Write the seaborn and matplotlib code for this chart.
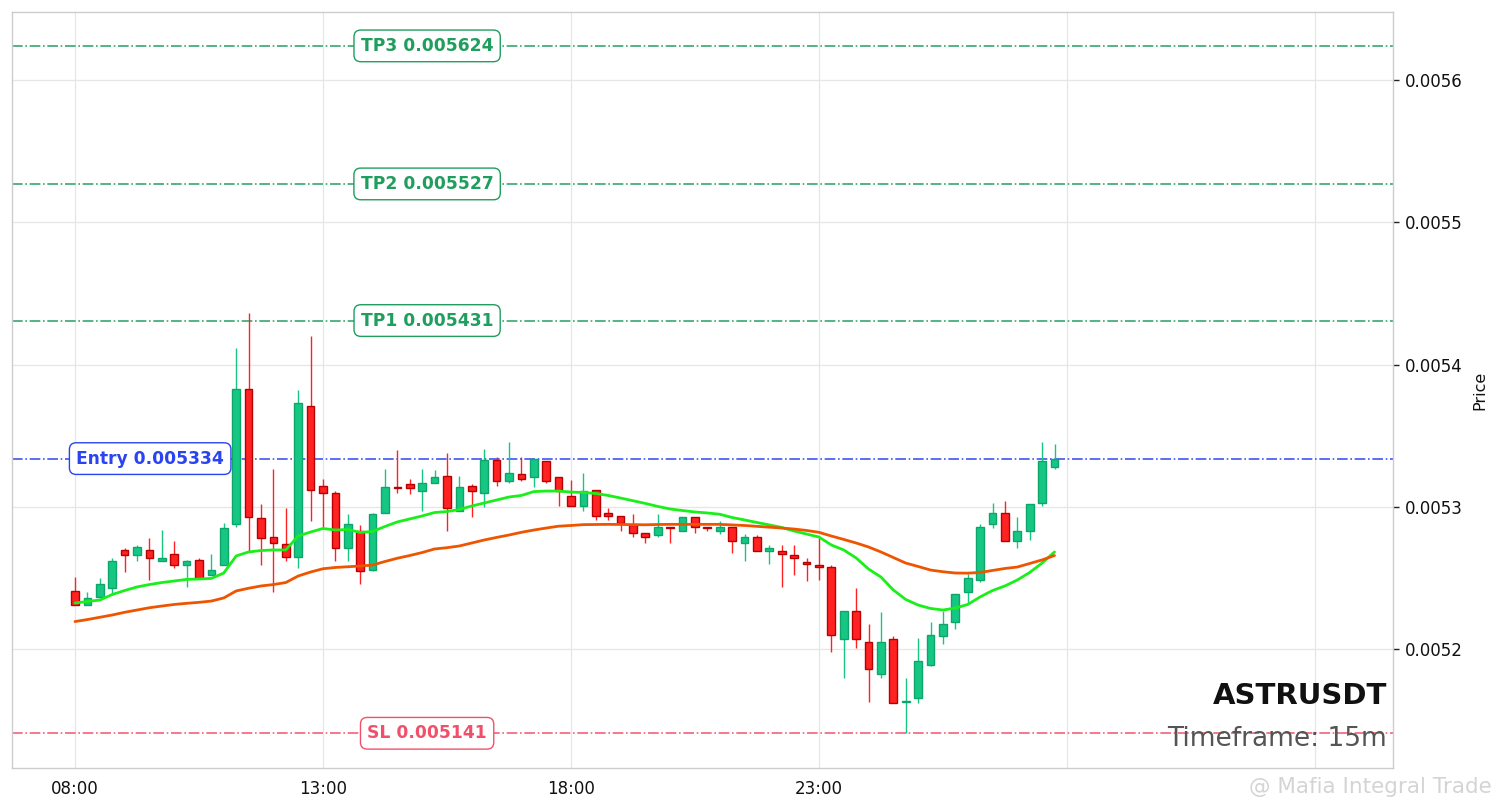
import matplotlib
matplotlib.use("Agg")
import matplotlib.pyplot as plt
import seaborn as sns
import numpy as np

# candle data, prices in 1e-6 units
opens = [5241, 5231, 5237, 5243, 5270, 5266, 5270, 5262, 5267, 5259,
         5263, 5252, 5259, 5288, 5383, 5292, 5279, 5274, 5265, 5371,
         5315, 5310, 5271, 5283, 5256, 5296, 5314, 5316, 5311, 5317,
         5322, 5297, 5315, 5310, 5333, 5318, 5323, 5321, 5332, 5321,
         5308, 5301, 5312, 5296, 5294, 5287, 5282, 5280, 5286, 5283,
         5293, 5286, 5283, 5286, 5275, 5279, 5269, 5269, 5266, 5261,
         5259, 5258, 5207, 5227, 5205, 5183, 5207, 5163, 5166, 5189,
         5209, 5219, 5240, 5249, 5288, 5296, 5276, 5283, 5303, 5328]
highs = [5251, 5240, 5250, 5264, 5271, 5273, 5278, 5284, 5276, 5263,
         5264, 5267, 5289, 5412, 5436, 5302, 5327, 5299, 5382, 5420,
         5320, 5311, 5295, 5287, 5296, 5327, 5340, 5320, 5327, 5326,
         5338, 5322, 5316, 5341, 5335, 5346, 5335, 5334, 5332, 5321,
         5319, 5324, 5312, 5299, 5294, 5295, 5282, 5295, 5286, 5293,
         5293, 5286, 5290, 5286, 5281, 5280, 5273, 5273, 5273, 5264,
         5278, 5259, 5227, 5243, 5218, 5226, 5209, 5180, 5208, 5219,
         5227, 5239, 5253, 5288, 5303, 5304, 5293, 5302, 5346, 5344]
lows = [5231, 5231, 5236, 5238, 5254, 5262, 5249, 5262, 5257, 5244,
        5250, 5252, 5259, 5286, 5269, 5259, 5240, 5262, 5257, 5290,
        5286, 5262, 5262, 5246, 5255, 5296, 5310, 5309, 5297, 5317,
        5283, 5297, 5293, 5300, 5315, 5317, 5318, 5314, 5317, 5301,
        5301, 5297, 5291, 5291, 5283, 5279, 5275, 5279, 5275, 5283,
        5282, 5283, 5281, 5268, 5262, 5269, 5260, 5244, 5252, 5248,
        5249, 5198, 5180, 5201, 5163, 5180, 5162, 5141, 5162, 5188,
        5204, 5214, 5232, 5247, 5285, 5276, 5271, 5277, 5301, 5327]
closes = [5231, 5236, 5246, 5262, 5266, 5272, 5264, 5264, 5259, 5262,
          5250, 5256, 5285, 5383, 5293, 5278, 5275, 5265, 5373, 5312,
          5310, 5271, 5288, 5255, 5295, 5314, 5313, 5313, 5317, 5321,
          5299, 5314, 5311, 5333, 5318, 5324, 5320, 5334, 5318, 5311,
          5301, 5311, 5294, 5294, 5289, 5282, 5279, 5286, 5285, 5293,
          5286, 5285, 5286, 5276, 5279, 5269, 5271, 5267, 5264, 5260,
          5258, 5210, 5227, 5207, 5186, 5205, 5162, 5164, 5192, 5210,
          5218, 5239, 5250, 5286, 5296, 5276, 5283, 5302, 5332, 5334]

ema_fast = [5232.5, 5233.6, 5234.6, 5238.5, 5241.3, 5243.8, 5245.5, 5246.9, 5248.0, 5249.1,
            5249.4, 5249.8, 5253.6, 5265.6, 5268.4, 5269.4, 5269.8, 5269.8, 5279.6, 5282.4,
            5284.9, 5283.8, 5284.2, 5282.1, 5282.8, 5286.3, 5289.5, 5291.6, 5293.7, 5296.1,
            5296.8, 5298.2, 5300.7, 5302.8, 5304.9, 5307.0, 5308.1, 5310.8, 5311.2, 5311.2,
            5310.5, 5310.2, 5309.5, 5308.1, 5306.3, 5304.4, 5302.5, 5300.4, 5298.6, 5297.5,
            5296.5, 5295.8, 5294.9, 5292.6, 5290.9, 5289.1, 5287.4, 5285.6, 5283.1, 5281.0,
            5278.9, 5273.3, 5269.8, 5264.2, 5256.4, 5250.8, 5241.7, 5235.0, 5231.1, 5228.7,
            5227.6, 5229.0, 5231.5, 5236.8, 5241.3, 5244.5, 5248.7, 5254.0, 5260.6, 5268.4]
ema_slow = [5219.5, 5220.9, 5222.5, 5224.1, 5226.0, 5227.6, 5229.2, 5230.4, 5231.5, 5232.3,
            5233.0, 5233.9, 5236.1, 5241.0, 5242.9, 5244.5, 5245.5, 5246.9, 5251.5, 5254.3,
            5256.6, 5257.5, 5258.0, 5258.5, 5259.2, 5261.7, 5264.0, 5265.9, 5268.0, 5270.5,
            5271.4, 5272.6, 5274.7, 5276.8, 5278.6, 5280.3, 5282.2, 5283.8, 5285.2, 5286.5,
            5287.0, 5287.6, 5287.7, 5287.8, 5287.7, 5287.6, 5287.5, 5287.7, 5287.8, 5287.8,
            5287.8, 5287.8, 5287.8, 5287.4, 5287.0, 5286.4, 5285.8, 5285.2, 5284.5, 5283.5,
            5282.2, 5279.6, 5277.2, 5274.7, 5271.9, 5268.4, 5264.5, 5260.6, 5258.2, 5255.7,
            5254.5, 5253.6, 5253.5, 5254.0, 5255.4, 5256.8, 5257.8, 5260.3, 5262.8, 5265.9]

level_names = ["TP3", "TP2", "TP1", "Entry", "SL"]
level_values = [0.005624, 0.005527, 0.005431, 0.005334, 0.005141]
level_colors = ["#1f9e5e", "#1f9e5e", "#1f9e5e", "#2a44f2", "#f2506a"]

tick_idx = [0, 20, 40, 60, 80, 100]
tick_labels = ["08:00", "13:00", "18:00", "23:00", "", ""]

symbol = "ASTRUSDT"
timeframe = "15m"

o = np.array(opens) * 1e-6
h = np.array(highs) * 1e-6
l = np.array(lows) * 1e-6
c = np.array(closes) * 1e-6
idx = np.arange(len(o))

sns.set_theme(style="whitegrid")
plt.rcParams['font.family'] = ['DejaVu Sans']

fig, ax = plt.subplots(figsize=(15.01, 8.08), dpi=100)
fig.subplots_adjust(left=12/1501, right=1393/1501, top=1-12/808, bottom=1-768/808)

up = c >= o
body_col = np.where(up, "#16c784", "#ff2222")
edge_col = np.where(up, "#0ea56b", "#b80000")

ax.vlines(idx, l, h, colors=body_col, lw=1, zorder=3)
ax.bar(idx, np.maximum(np.abs(c - o), 0.7e-6), bottom=np.minimum(o, c), width=0.62,
       color=body_col, edgecolor=edge_col, linewidth=1, zorder=4)

sns.lineplot(x=idx, y=np.array(ema_fast) * 1e-6, color="#1aef1a", lw=2, ax=ax, zorder=5)
sns.lineplot(x=idx, y=np.array(ema_slow) * 1e-6, color="#ee5500", lw=2, ax=ax, zorder=5)

for name, val, col in zip(level_names, level_values, level_colors):
    ax.axhline(val, color=col, ls="-.", lw=1.2, alpha=0.9, zorder=2)
    if name == "Entry":
        x, ha = 0.1, "left"
    else:
        x, ha = 28.4, "center"
    ax.text(x, val, f"{name} {val:.6f}", ha=ha, va="center", fontsize=12.3,
            fontweight="bold", color=col, zorder=6,
            bbox=dict(boxstyle="round,pad=0.4", fc="white", ec=col, lw=1))

ax.set_xlim(-5.08, 106.3)
ax.set_ylim(0.0051166, 0.0056478)
ax.set_xticks(tick_idx)
ax.set_xticklabels(tick_labels)
ax.set_yticks(np.arange(0.0052, 0.00565, 0.0001))
ax.set_yticklabels([f"{v:.4f}" for v in np.arange(0.0052, 0.00565, 0.0001)])
ax.yaxis.tick_right()
ax.yaxis.set_label_position("right")
ax.set_ylabel("Price", fontsize=11.5, labelpad=7, color="#111111")
ax.set_xlabel("")
ax.tick_params(axis="both", length=4.5, width=1, color="#222222",
               labelsize=12, labelcolor="#111111", pad=4)
ax.grid(True, color="#e6e6e6", lw=0.9)
for sp in ax.spines.values():
    sp.set_color("#cccccc")
    sp.set_linewidth(1)

ax.text(0.9956, 0.0847, symbol, transform=ax.transAxes, ha="right", va="baseline",
        fontsize=21, fontweight="bold", color="#111111", zorder=7)
ax.text(0.9956, 0.029, f"Timeframe: {timeframe}", transform=ax.transAxes, ha="right",
        va="baseline", fontsize=19, color="#555555", zorder=7)

fig.text(1492/1501, 1-793/808, "@ Mafia Integral Trade", ha="right", va="baseline",
         fontsize=15.5, color="#d4d4d4")

fig.savefig("out.png", dpi=100)
